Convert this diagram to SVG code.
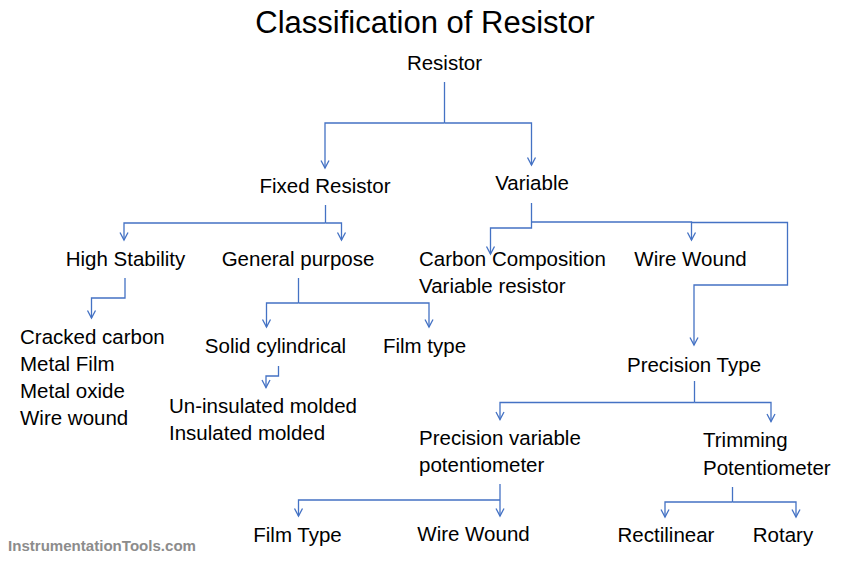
<svg xmlns="http://www.w3.org/2000/svg" width="860" height="561" viewBox="0 0 860 561">
<style>
  text { font-family: "Liberation Sans", Arial, sans-serif; fill: #000; }
  .t { font-size: 20.5px; }
  .m { text-anchor: middle; }
  .title { font-size: 31px; text-anchor: middle; }
  .wm { font-size: 15px; font-weight: bold; fill: #8c8c8c; }
  .c { fill: none; stroke: #4472C4; stroke-width: 1.3; }
</style>
<defs>
  <marker id="ah" viewBox="-9 -6 11 12" markerWidth="11" markerHeight="12" refX="0" refY="0" orient="auto" markerUnits="userSpaceOnUse">
    <path d="M-7.5,-4 L0,0 L-7.5,4" fill="none" stroke="#4472C4" stroke-width="1.3"/>
  </marker>
</defs>
<rect width="860" height="561" fill="#ffffff"/>

<text id="title" class="title" x="425" y="33">Classification of Resistor</text>

<g id="connectors">
  <polyline class="c" points="444.5,82 444.5,123"/>
  <polyline class="c" points="444.5,123 325,123 325,168" marker-end="url(#ah)"/>
  <polyline class="c" points="444.5,123 531.5,123 531.5,165" marker-end="url(#ah)"/>

  <polyline class="c" points="325.5,205 325.5,223"/>
  <polyline class="c" points="325.5,223 124,223 124,240" marker-end="url(#ah)"/>
  <polyline class="c" points="325.5,223 341.5,223 341.5,240" marker-end="url(#ah)"/>

  <polyline class="c" points="125,278 125,298 91.5,298 91.5,318" marker-end="url(#ah)"/>

  <polyline class="c" points="298.5,278 298.5,303"/>
  <polyline class="c" points="298.5,303 266.5,303 266.5,327" marker-end="url(#ah)"/>
  <polyline class="c" points="298.5,303 429,303 429,327" marker-end="url(#ah)"/>

  <polyline class="c" points="278.5,366 278.5,376 266,376 266,387.5" marker-end="url(#ah)"/>

  <polyline class="c" points="531.5,203 531.5,228 490.5,228 490.5,254" marker-end="url(#ah)"/>
  <polyline class="c" points="531.5,222 691.5,222 691.5,240" marker-end="url(#ah)"/>
  <polyline class="c" points="691.5,222.5 787.5,222.5 787.5,285 694,285 694,345" marker-end="url(#ah)"/>

  <polyline class="c" points="694.5,381 694.5,402.5"/>
  <polyline class="c" points="694.5,402.5 500,402.5 500,419.5" marker-end="url(#ah)"/>
  <polyline class="c" points="694.5,402.5 771,402.5 771,421.5" marker-end="url(#ah)"/>

  <polyline class="c" points="500,484 500,516" marker-end="url(#ah)"/>
  <polyline class="c" points="500,500 298.5,500 298.5,516" marker-end="url(#ah)"/>

  <polyline class="c" points="732.5,487 732.5,502"/>
  <polyline class="c" points="732.5,502 665,502 665,517" marker-end="url(#ah)"/>
  <polyline class="c" points="732.5,502 796,502 796,517" marker-end="url(#ah)"/>
</g>

<g id="n-resistor"><text class="t m" x="444.5" y="70">Resistor</text></g>
<g id="n-fixed"><text class="t m" x="325" y="193">Fixed Resistor</text></g>
<g id="n-variable"><text class="t m" x="532" y="190">Variable</text></g>
<g id="n-high"><text class="t m" x="125.5" y="266">High Stability</text></g>
<g id="n-general"><text class="t m" x="298" y="266">General purpose</text></g>
<g id="n-carbon">
  <text class="t" x="419" y="266">Carbon Composition</text>
  <text class="t" x="419" y="293">Variable resistor</text>
</g>
<g id="n-wirewound1"><text class="t m" x="690.5" y="266">Wire Wound</text></g>
<g id="n-highlist">
  <text class="t" x="20" y="344">Cracked carbon</text>
  <text class="t" x="20" y="371">Metal Film</text>
  <text class="t" x="20" y="398">Metal oxide</text>
  <text class="t" x="20" y="425">Wire wound</text>
</g>
<g id="n-solid"><text class="t m" x="275.5" y="353">Solid cylindrical</text></g>
<g id="n-film"><text class="t m" x="424.5" y="353">Film type</text></g>
<g id="n-molded">
  <text class="t" x="169" y="413">Un-insulated molded</text>
  <text class="t" x="169" y="440">Insulated molded</text>
</g>
<g id="n-precision"><text class="t m" x="694" y="372">Precision Type</text></g>
<g id="n-precvar">
  <text class="t" x="419" y="445">Precision variable</text>
  <text class="t" x="419" y="472">potentiometer</text>
</g>
<g id="n-trimming">
  <text class="t" x="703" y="447">Trimming</text>
  <text class="t" x="703" y="475">Potentiometer</text>
</g>
<g id="n-filmtype2"><text class="t m" x="297.5" y="542">Film Type</text></g>
<g id="n-wirewound2"><text class="t m" x="473.5" y="541">Wire Wound</text></g>
<g id="n-rect"><text class="t m" x="666" y="542">Rectilinear</text></g>
<g id="n-rotary"><text class="t m" x="783" y="542">Rotary</text></g>

<text id="watermark" class="wm" x="8" y="551" textLength="188" lengthAdjust="spacingAndGlyphs">InstrumentationTools.com</text>
</svg>
